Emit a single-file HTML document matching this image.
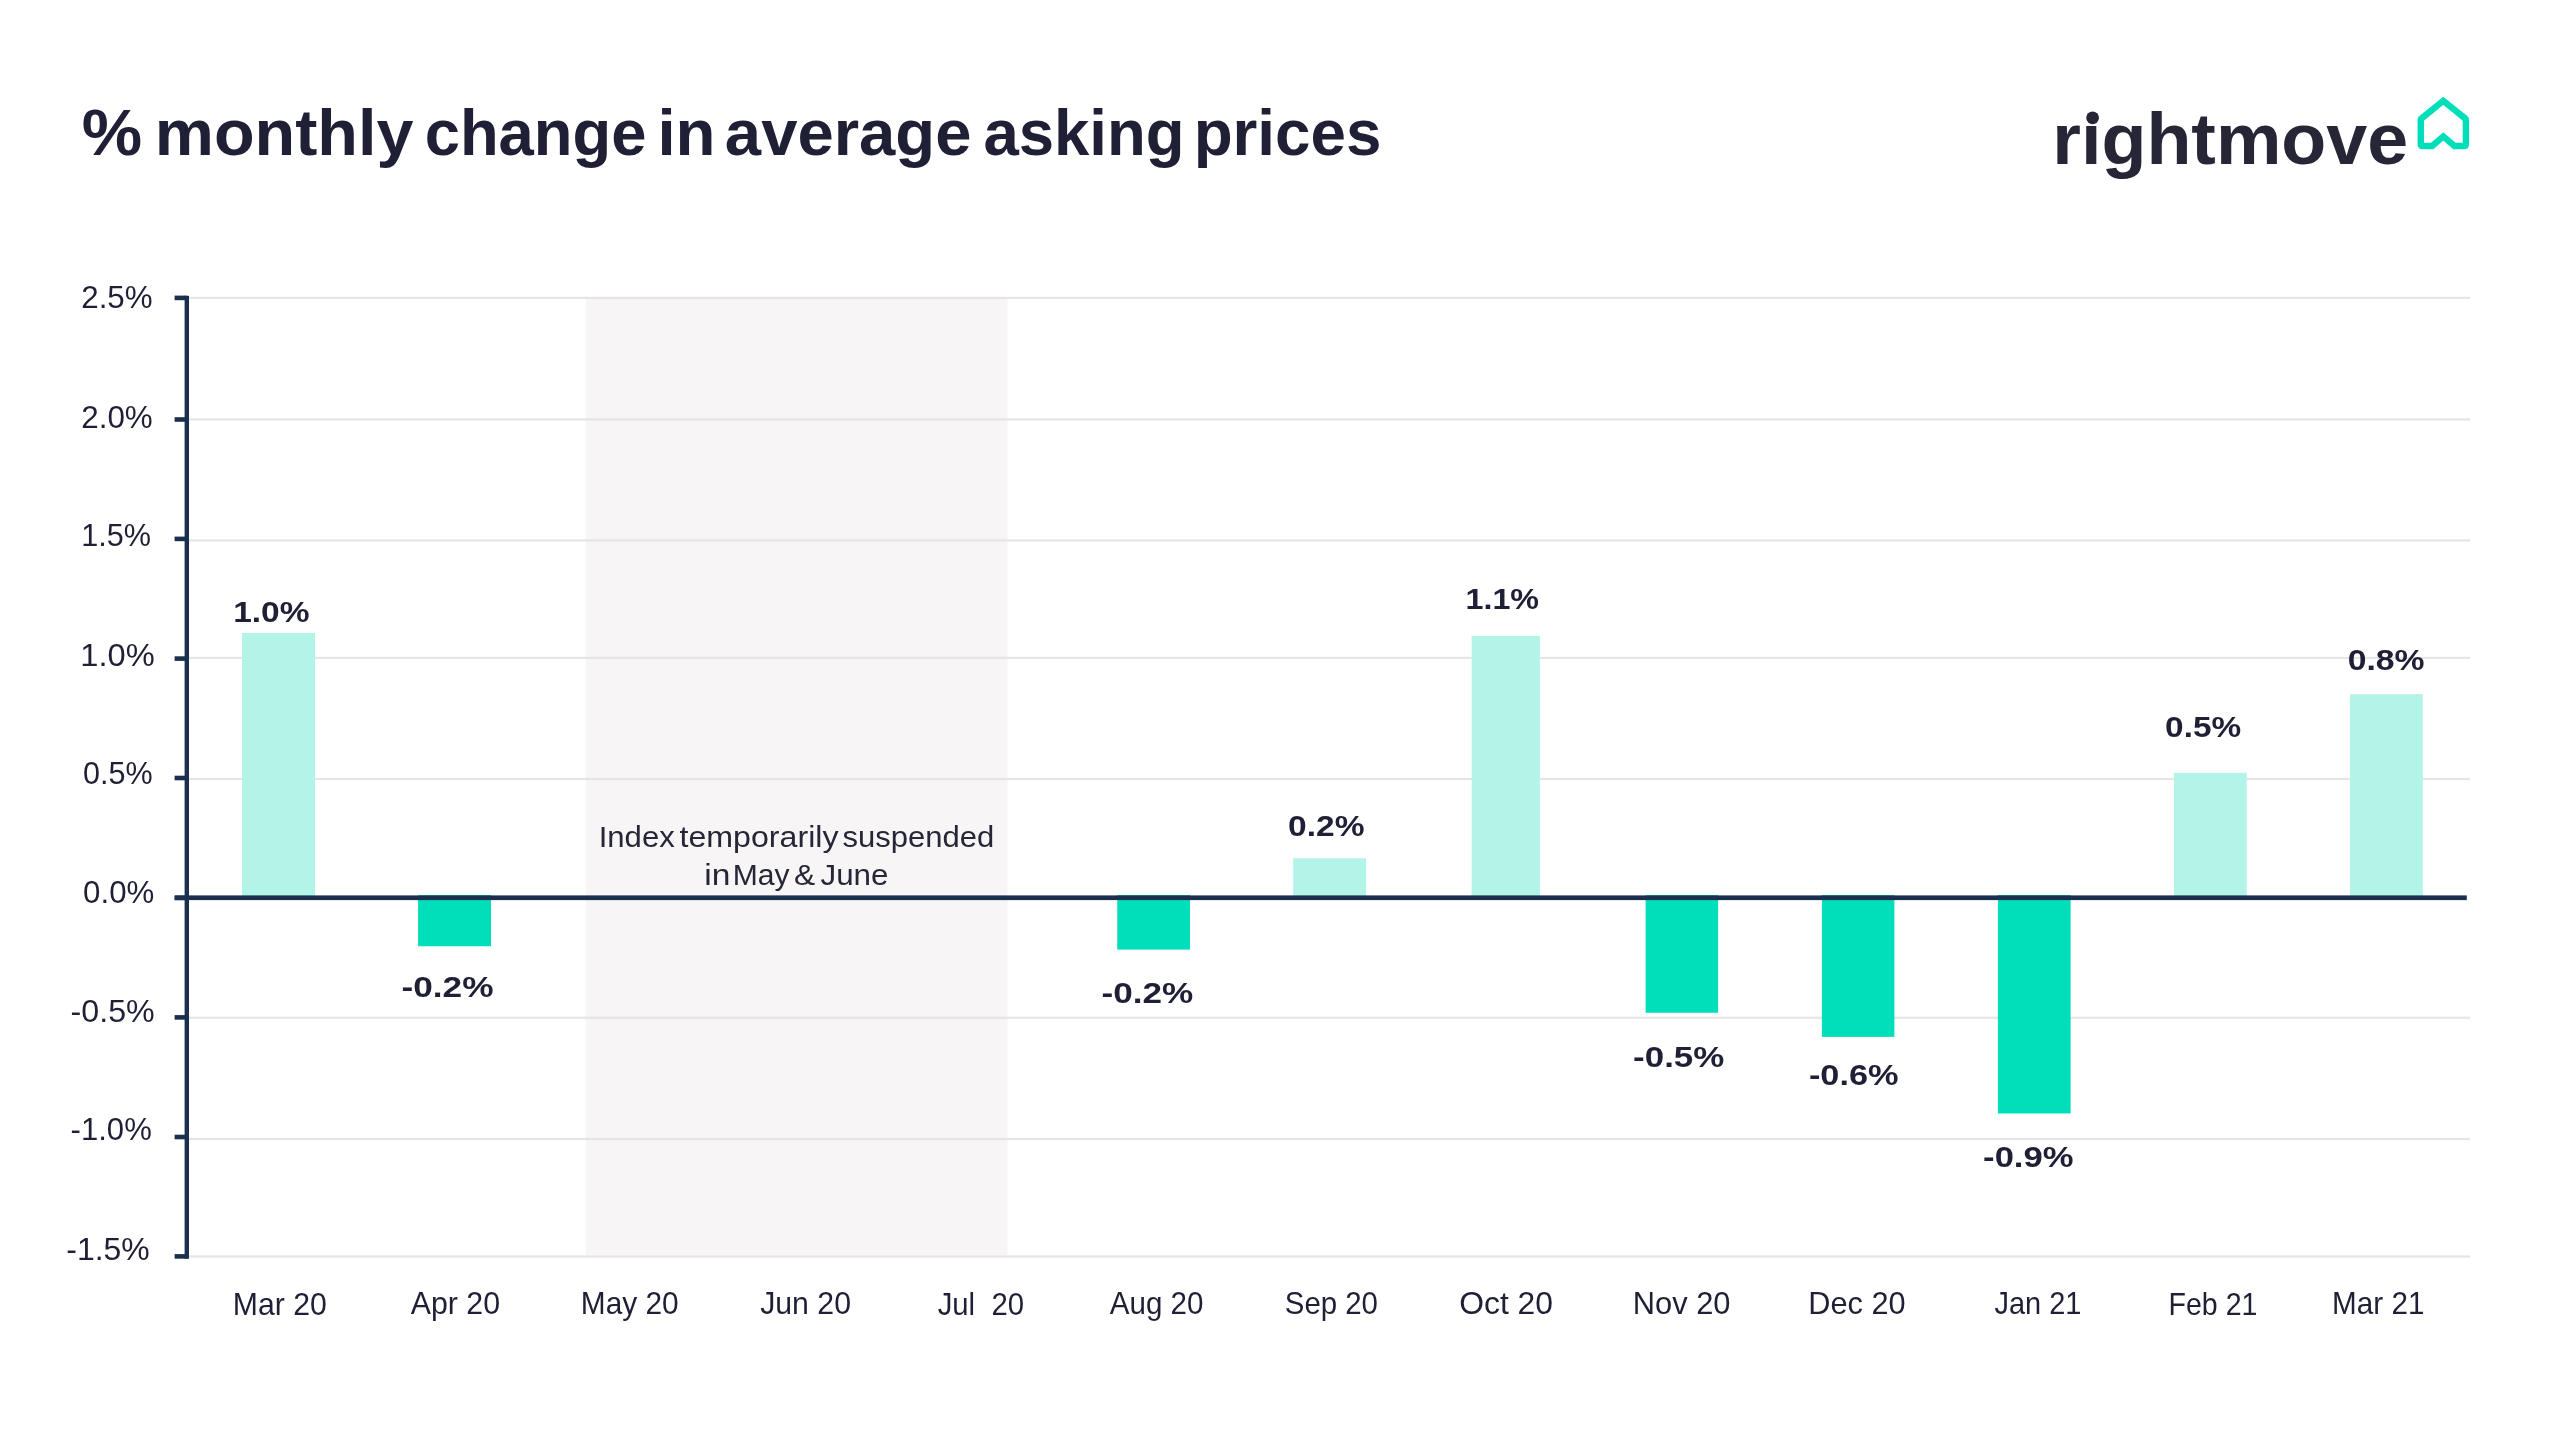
<!DOCTYPE html>
<html><head><meta charset="utf-8"><title>% monthly change in average asking prices</title>
<style>
html,body{margin:0;padding:0;background:#fff;width:2560px;height:1434px;overflow:hidden}
svg{display:block;position:absolute;left:0;top:0;will-change:transform}
.r{font-family:"Liberation Sans",sans-serif;font-weight:400}
.b{font-family:"Liberation Sans",sans-serif;font-weight:700}
</style></head><body>
<svg width="2560" height="1434" viewBox="0 0 2560 1434">
<rect x="0" y="0" width="2560" height="1434" fill="#fff"/>
<text class="b" x="81.85" y="154.75" font-size="64.7" fill="#1f1f36" textLength="60.37" lengthAdjust="spacingAndGlyphs" xml:space="preserve">%</text>
<text class="b" x="154.82" y="154.75" font-size="64.7" fill="#1f1f36" textLength="258.58" lengthAdjust="spacingAndGlyphs" xml:space="preserve">monthly</text>
<text class="b" x="424.70" y="154.75" font-size="64.7" fill="#1f1f36" textLength="221.75" lengthAdjust="spacingAndGlyphs" xml:space="preserve">change</text>
<text class="b" x="657.40" y="154.75" font-size="64.7" fill="#1f1f36" textLength="58.10" lengthAdjust="spacingAndGlyphs" xml:space="preserve">in</text>
<text class="b" x="724.86" y="154.75" font-size="64.7" fill="#1f1f36" textLength="246.60" lengthAdjust="spacingAndGlyphs" xml:space="preserve">average</text>
<text class="b" x="983.44" y="154.75" font-size="64.7" fill="#1f1f36" textLength="201.14" lengthAdjust="spacingAndGlyphs" xml:space="preserve">asking</text>
<text class="b" x="1193.64" y="154.75" font-size="64.7" fill="#1f1f36" textLength="187.80" lengthAdjust="spacingAndGlyphs" xml:space="preserve">prices</text>
<text class="b" x="2052.30" y="164.25" font-size="71.6" fill="#262637" textLength="355.96" lengthAdjust="spacingAndGlyphs" xml:space="preserve">rıghtmove</text>
<circle cx="2092.6" cy="117.8" r="6.4" fill="#262637"/>
<path d="M2432.2 146 L2422.6 146 Q2420.75 146 2420.75 144.2 L2420.75 119.6 Q2420.75 119 2421.3 118.6 L2443.3 100.8 L2465.3 118.6 Q2465.9 119 2465.9 119.6 L2465.9 144.2 Q2465.9 146 2464.1 146 L2454.4 146 L2443.3 136.4 Z" fill="none" stroke="#00dfb9" stroke-width="6.4" stroke-linejoin="miter" stroke-miterlimit="10"/>
<rect x="586" y="299" width="421.5" height="956.5" fill="#f7f5f6"/>
<rect x="189" y="296.80" width="2281" height="2.2" fill="#e6e4e5"/>
<rect x="189" y="418.30" width="2281" height="2.2" fill="#e6e4e5"/>
<rect x="189" y="539.30" width="2281" height="2.2" fill="#e6e4e5"/>
<rect x="189" y="656.80" width="2281" height="2.2" fill="#e6e4e5"/>
<rect x="189" y="777.90" width="2281" height="2.2" fill="#e6e4e5"/>
<rect x="189" y="1016.65" width="2281" height="2.2" fill="#e6e4e5"/>
<rect x="189" y="1137.90" width="2281" height="2.2" fill="#e6e4e5"/>
<rect x="189" y="1255.40" width="2281" height="2.2" fill="#e6e4e5"/>
<text class="r" x="598.70" y="847.20" font-size="29" fill="#262637" textLength="76.08" lengthAdjust="spacingAndGlyphs" xml:space="preserve">Index</text>
<text class="r" x="679.50" y="847.20" font-size="29" fill="#262637" textLength="159.02" lengthAdjust="spacingAndGlyphs" xml:space="preserve">temporarily</text>
<text class="r" x="842.62" y="847.20" font-size="29" fill="#262637" textLength="151.68" lengthAdjust="spacingAndGlyphs" xml:space="preserve">suspended</text>
<text class="r" x="704.22" y="884.70" font-size="29" fill="#262637" textLength="26.10" lengthAdjust="spacingAndGlyphs" xml:space="preserve">in</text>
<text class="r" x="732.70" y="884.70" font-size="29" fill="#262637" textLength="56.82" lengthAdjust="spacingAndGlyphs" xml:space="preserve">May</text>
<text class="r" x="793.98" y="884.70" font-size="29" fill="#262637" textLength="21.16" lengthAdjust="spacingAndGlyphs" xml:space="preserve">&amp;</text>
<text class="r" x="820.50" y="884.70" font-size="29" fill="#262637" textLength="67.92" lengthAdjust="spacingAndGlyphs" xml:space="preserve">June</text>
<rect x="242.0" y="633.0" width="73.00" height="264.50" fill="#b3f4e8"/>
<rect x="418.1" y="895.0" width="72.90" height="51.25" fill="#00dfb9"/>
<rect x="1117.25" y="895.0" width="72.75" height="54.60" fill="#00dfb9"/>
<rect x="1293.2" y="858.3" width="72.90" height="39.20" fill="#b3f4e8"/>
<rect x="1471.6" y="635.9" width="68.30" height="261.60" fill="#b3f4e8"/>
<rect x="1645.6" y="895.0" width="72.50" height="117.75" fill="#00dfb9"/>
<rect x="1821.9" y="895.0" width="72.50" height="141.90" fill="#00dfb9"/>
<rect x="1997.9" y="895.0" width="72.70" height="218.50" fill="#00dfb9"/>
<rect x="2174.0" y="772.8" width="72.70" height="124.70" fill="#b3f4e8"/>
<rect x="2350.1" y="694.2" width="72.70" height="203.30" fill="#b3f4e8"/>
<rect x="174.7" y="895.4" width="2292.1" height="4.7" fill="#1b2f4f"/>
<rect x="184.6" y="295.8" width="4.4" height="963" fill="#1b2f4f"/>
<rect x="174.6" y="295.60" width="12" height="4.6" fill="#1b2f4f"/>
<rect x="174.6" y="417.20" width="12" height="4.6" fill="#1b2f4f"/>
<rect x="174.6" y="536.60" width="12" height="4.6" fill="#1b2f4f"/>
<rect x="174.6" y="656.30" width="12" height="4.6" fill="#1b2f4f"/>
<rect x="174.6" y="775.70" width="12" height="4.6" fill="#1b2f4f"/>
<rect x="174.6" y="895.60" width="12" height="4.6" fill="#1b2f4f"/>
<rect x="174.6" y="1015.10" width="12" height="4.6" fill="#1b2f4f"/>
<rect x="174.6" y="1134.70" width="12" height="4.6" fill="#1b2f4f"/>
<rect x="174.6" y="1254.10" width="12" height="4.6" fill="#1b2f4f"/>
<text class="r" x="81.28" y="308.24" font-size="30.6" fill="#1f1f36" textLength="71.34" lengthAdjust="spacingAndGlyphs" xml:space="preserve">2.5%</text>
<text class="r" x="81.28" y="427.84" font-size="30.6" fill="#1f1f36" textLength="71.50" lengthAdjust="spacingAndGlyphs" xml:space="preserve">2.0%</text>
<text class="r" x="81.22" y="546.26" font-size="30.6" fill="#1f1f36" textLength="69.78" lengthAdjust="spacingAndGlyphs" xml:space="preserve">1.5%</text>
<text class="r" x="80.38" y="665.62" font-size="30.6" fill="#1f1f36" textLength="74.37" lengthAdjust="spacingAndGlyphs" xml:space="preserve">1.0%</text>
<text class="r" x="83.12" y="784.10" font-size="30.6" fill="#1f1f36" textLength="69.60" lengthAdjust="spacingAndGlyphs" xml:space="preserve">0.5%</text>
<text class="r" x="83.12" y="903.14" font-size="30.6" fill="#1f1f36" textLength="71.16" lengthAdjust="spacingAndGlyphs" xml:space="preserve">0.0%</text>
<text class="r" x="70.62" y="1022.15" font-size="30.6" fill="#1f1f36" textLength="84.13" lengthAdjust="spacingAndGlyphs" xml:space="preserve">-0.5%</text>
<text class="r" x="70.62" y="1140.23" font-size="30.6" fill="#1f1f36" textLength="81.16" lengthAdjust="spacingAndGlyphs" xml:space="preserve">-1.0%</text>
<text class="r" x="66.28" y="1259.95" font-size="30.6" fill="#1f1f36" textLength="83.47" lengthAdjust="spacingAndGlyphs" xml:space="preserve">-1.5%</text>
<text class="b" x="233.16" y="622.34" font-size="30.0" fill="#1f1f36" textLength="76.34" lengthAdjust="spacingAndGlyphs" xml:space="preserve">1.0%</text>
<text class="b" x="401.50" y="996.59" font-size="30.0" fill="#1f1f36" textLength="92.00" lengthAdjust="spacingAndGlyphs" xml:space="preserve">-0.2%</text>
<text class="b" x="1101.50" y="1002.58" font-size="30.0" fill="#1f1f36" textLength="91.75" lengthAdjust="spacingAndGlyphs" xml:space="preserve">-0.2%</text>
<text class="b" x="1288.12" y="835.90" font-size="30.0" fill="#1f1f36" textLength="76.38" lengthAdjust="spacingAndGlyphs" xml:space="preserve">0.2%</text>
<text class="b" x="1465.50" y="609.38" font-size="30.0" fill="#1f1f36" textLength="73.50" lengthAdjust="spacingAndGlyphs" xml:space="preserve">1.1%</text>
<text class="b" x="1633.12" y="1066.71" font-size="30.0" fill="#1f1f36" textLength="91.16" lengthAdjust="spacingAndGlyphs" xml:space="preserve">-0.5%</text>
<text class="b" x="1808.90" y="1085.37" font-size="30.0" fill="#1f1f36" textLength="89.60" lengthAdjust="spacingAndGlyphs" xml:space="preserve">-0.6%</text>
<text class="b" x="1983.12" y="1166.93" font-size="30.0" fill="#1f1f36" textLength="90.38" lengthAdjust="spacingAndGlyphs" xml:space="preserve">-0.9%</text>
<text class="b" x="2165.12" y="736.56" font-size="30.0" fill="#1f1f36" textLength="76.10" lengthAdjust="spacingAndGlyphs" xml:space="preserve">0.5%</text>
<text class="b" x="2347.68" y="669.58" font-size="30.0" fill="#1f1f36" textLength="76.88" lengthAdjust="spacingAndGlyphs" xml:space="preserve">0.8%</text>
<text class="r" x="232.82" y="1314.66" font-size="31.6" fill="#1f1f36" textLength="94.02" lengthAdjust="spacingAndGlyphs" xml:space="preserve">Mar 20</text>
<text class="r" x="410.74" y="1314.45" font-size="31.6" fill="#1f1f36" textLength="89.26" lengthAdjust="spacingAndGlyphs" xml:space="preserve">Apr 20</text>
<text class="r" x="580.82" y="1314.45" font-size="31.6" fill="#1f1f36" textLength="97.80" lengthAdjust="spacingAndGlyphs" xml:space="preserve">May 20</text>
<text class="r" x="760.15" y="1314.45" font-size="31.6" fill="#1f1f36" textLength="90.85" lengthAdjust="spacingAndGlyphs" xml:space="preserve">Jun 20</text>
<text class="r" x="937.65" y="1315.15" font-size="31.6" fill="#1f1f36" textLength="86.35" lengthAdjust="spacingAndGlyphs" xml:space="preserve">Jul  20</text>
<text class="r" x="1109.80" y="1314.45" font-size="31.6" fill="#1f1f36" textLength="93.70" lengthAdjust="spacingAndGlyphs" xml:space="preserve">Aug 20</text>
<text class="r" x="1284.78" y="1314.03" font-size="31.6" fill="#1f1f36" textLength="93.22" lengthAdjust="spacingAndGlyphs" xml:space="preserve">Sep 20</text>
<text class="r" x="1459.25" y="1314.45" font-size="31.6" fill="#1f1f36" textLength="93.75" lengthAdjust="spacingAndGlyphs" xml:space="preserve">Oct 20</text>
<text class="r" x="1632.85" y="1314.45" font-size="31.6" fill="#1f1f36" textLength="97.65" lengthAdjust="spacingAndGlyphs" xml:space="preserve">Nov 20</text>
<text class="r" x="1808.35" y="1314.45" font-size="31.6" fill="#1f1f36" textLength="97.30" lengthAdjust="spacingAndGlyphs" xml:space="preserve">Dec 20</text>
<text class="r" x="1994.40" y="1314.45" font-size="31.6" fill="#1f1f36" textLength="87.00" lengthAdjust="spacingAndGlyphs" xml:space="preserve">Jan 21</text>
<text class="r" x="2168.50" y="1315.15" font-size="31.6" fill="#1f1f36" textLength="88.90" lengthAdjust="spacingAndGlyphs" xml:space="preserve">Feb 21</text>
<text class="r" x="2332.10" y="1314.45" font-size="31.6" fill="#1f1f36" textLength="92.30" lengthAdjust="spacingAndGlyphs" xml:space="preserve">Mar 21</text>
</svg></body></html>
